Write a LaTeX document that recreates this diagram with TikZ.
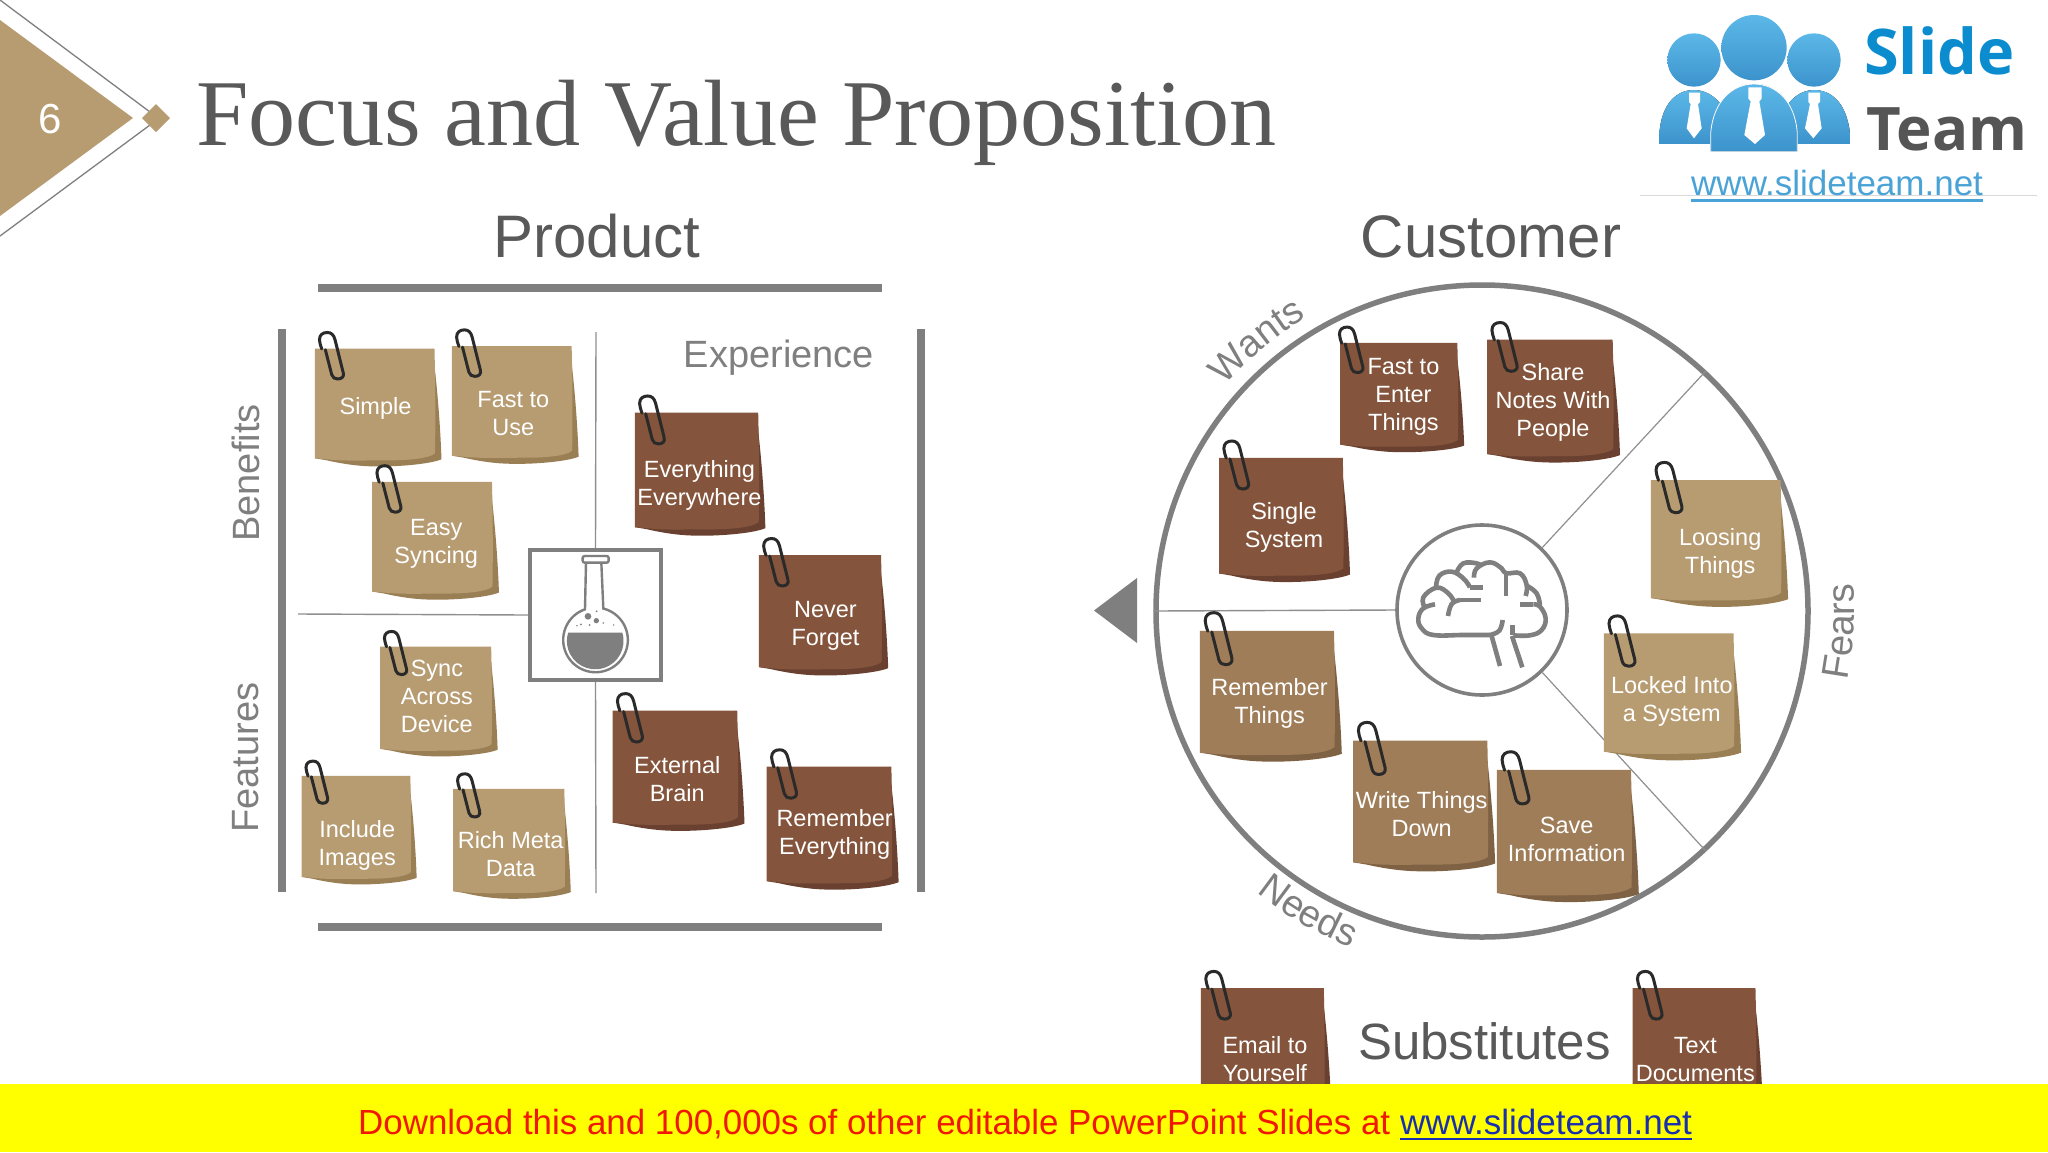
\documentclass[tikz,border=0pt]{standalone}
\usepackage{fontspec}
\usetikzlibrary{decorations.text}
\setmainfont{Liberation Sans}
\newfontfamily\ttlfont{Liberation Serif}
\newfontfamily\logofont{Open Sans}
\definecolor{lightfill}{HTML}{B79C72}
\definecolor{lightshade}{HTML}{9A7F55}
\definecolor{midfill}{HTML}{9F7D58}
\definecolor{midshade}{HTML}{7F6244}
\definecolor{darkfill}{HTML}{84553C}
\definecolor{darkshade}{HTML}{6A4130}
\definecolor{frame}{HTML}{7F7F7F}
\definecolor{thinline}{HTML}{8F8F8F}
\definecolor{inktext}{HTML}{595959}
\definecolor{clipink}{HTML}{2A2A2A}
\definecolor{bandyellow}{HTML}{FFFF00}
\definecolor{bandred}{HTML}{F01800}
\definecolor{bandblue}{HTML}{1A2FB0}
\definecolor{logoblue}{HTML}{4AA3D6}
\definecolor{logotop}{HTML}{5CB8E8}
\definecolor{logobot}{HTML}{3C93CC}
\definecolor{logoslide}{HTML}{0A8CCF}
\definecolor{logoteam}{HTML}{555555}
\tikzset{
  lbl/.style={inner sep=0pt,font=\fontsize{#1}{#1}\selectfont},
  notetext/.style={inner sep=0pt,text=white,align=center,font=\fontsize{23.5}{28}\selectfont},
  bar/.style={draw=frame,line width=8pt},
  thin rule/.style={draw=thinline,line width=1.4pt},
  brainline/.style={draw=frame,line width=4.6pt,smooth,tension=0.7},
  logoshade/.style={top color=logotop,bottom color=logobot,draw=none},
  arclabel/.style={decorate,decoration={text along path,text align=center,
    text={|\fontsize{38}{38}\selectfont\color{frame}|#1}}},
}
\def\clipdx{0}
\newcommand{\stickynote}[9]{%
  \begin{scope}[shift={(#2,#3)},xscale=#4/127,yscale=#5/118]
    \fill[#6shade] (118,0) .. controls (123,40) and (126,80) .. (127,111)
      .. controls (115,116) and (80,119) .. (55,118)
      .. controls (40,117.5) and (25,115) .. (12,112) -- (0,110) -- cycle;
    \fill[#6fill] (0,0) -- (120,0) .. controls (121,40) and (121,80) .. (120.5,105)
      .. controls (115,110) and (95,112) .. (75,112)
      .. controls (50,112) and (30,113) .. (12,111) -- (0,110) -- cycle;
  \end{scope}
  \begin{scope}[shift={(#2+\clipdx,#3)},scale=#4/127]
    \draw[clipink,line width=3pt,line cap=round]
      (7,0.3) .. controls (6,-3) and (4.7,-6) .. (4.7,-9)
      .. controls (4.7,-14) and (8,-16.3) .. (12.6,-16.3)
      .. controls (16.5,-16.3) and (19,-14) .. (20.3,-9) -- (28.6,24.3)
      .. controls (29.5,28) and (27,30.3) .. (23,30.3)
      .. controls (20,30.3) and (18,29) .. (17,26) -- (10.6,1);
  \end{scope}
  \node[notetext] (#1) at (#7,#8) {#9};
}
\begin{document}
\begin{tikzpicture}[x=1pt,y=-1pt]
\useasboundingbox (0,0) rectangle (2048,1152);
\fill[white] (0,0) rectangle (2048,1152);

% header
\fill[lightfill] (0,20) -- (133,118) -- (0,216) -- cycle;
\draw[frame,line width=1.3pt] (0,0) -- (150,112);
\draw[frame,line width=1.3pt] (150,125) -- (0,236);
\fill[lightfill] (156,104) -- (170,118) -- (156,132) -- (142,118) -- cycle;
\node[lbl=42,text=white] (pagenum) at (50,119) {6};
\node[inner sep=0pt,text=inktext,anchor=base west,font=\fontsize{94.2}{94}\selectfont\ttlfont] (title) at (196,145) {Focus and Value Proposition};

% logo
\begin{scope}[shift={(1620,0)},x=0.3333pt,y=-0.3333pt]
  \fill[logoshade] (118,432) -- (118,400) .. controls (125,310) and (170,270) .. (222,270) .. controls (265,270) and (300,300) .. (320,340) -- (320,432) -- cycle;
  \fill[logoshade] (690,432) -- (690,400) .. controls (680,310) and (635,270) .. (582,270) .. controls (540,270) and (505,300) .. (490,340) -- (490,432) -- cycle;
  \shade[top color=logotop,bottom color=logobot] (222,180) circle[radius=80];
  \shade[top color=logotop,bottom color=logobot] (582,180) circle[radius=80];
  \shade[top color=logotop,bottom color=logobot] (402,143) circle[radius=98];
  \fill[logoshade,draw=white,line width=0.8pt] (272,455) -- (272,400) .. controls (280,300) and (340,252) .. (402,252) .. controls (465,252) and (525,300) .. (532,400) -- (532,455) -- cycle;
  \fill[white] (207,278) -- (240,278) -- (240,306) -- (234,312) -- (245,385) -- (222,415) -- (200,385) -- (212,312) -- (207,306) -- cycle;
  \fill[white] (565,278) -- (600,278) -- (600,306) -- (594,312) -- (605,385) -- (580,415) -- (555,385) -- (570,312) -- (565,306) -- cycle;
  \fill[white] (385,262) -- (425,262) -- (425,296) -- (418,304) -- (435,405) -- (405,432) -- (373,405) -- (392,304) -- (385,296) -- cycle;
\end{scope}
\node[inner sep=0pt,anchor=base west,text=logoslide,font=\fontsize{63}{63}\selectfont\logofont\bfseries] (logoa) at (1864,74) {Slide};
\node[inner sep=0pt,anchor=base west,text=logoteam,font=\fontsize{60}{60}\selectfont\logofont\bfseries] (logob) at (1866,150) {Team};
\draw[draw=black!15,line width=1pt] (1640,195) -- (2037,195);
\node[lbl=35,anchor=base west,text=logoblue] (logourl) at (1691,195) {www.slideteam.net};
\draw[logoblue,line width=2.4pt] ([yshift=-5.5pt]logourl.base west) -- ([yshift=-5.5pt]logourl.base east);

% product side
\node[lbl=60,text=inktext,anchor=base] (product) at (597,257) {Product};
\coordinate (tl) at (318,288); \coordinate (tr) at (882,288);
\coordinate (bl) at (318,927); \coordinate (br) at (882,927);
\coordinate (ltop) at (281.5,329); \coordinate (lbot) at (281.5,892);
\coordinate (rtop) at (920.5,329); \coordinate (rbot) at (920.5,892);
\draw[bar] (tl) -- (tr);
\draw[bar] (bl) -- (br);
\draw[bar] (ltop) -- (lbot);
\draw[bar] (rtop) -- (rbot);
\node[draw=frame,line width=4.2pt,minimum width=131pt,minimum height=130pt,inner sep=0pt,fill=white] (flaskbox) at (595.5,615) {};
\coordinate (crosstop) at (596,332); \coordinate (crossbot) at (596,893); \coordinate (crossleft) at (298,614);
\draw[thin rule] (crosstop) -- (flaskbox.north);
\draw[thin rule] (crossbot) -- (flaskbox.south);
\draw[thin rule] (crossleft) -- (flaskbox.west);
\begin{scope}[shift={(500,520)},x=0.3333pt,y=-0.3333pt]
  \draw[frame,line width=2.4pt,rounded corners=2pt] (248,108) rectangle (326,128);
  \draw[frame,line width=2.4pt] (258,128) -- (255,268) arc[start angle=251,end angle=-76,radius=97] -- (304,128);
  \fill[frame] (205,338) -- (367,338) arc[start angle=-17,end angle=197,radius=85] -- cycle;
  \fill[frame] (264,289) circle[radius=10] (289,302) circle[radius=8] (290,274) circle[radius=3] (243,313) circle[radius=3] (231,317) circle[radius=2.5] (269,315) circle[radius=3] (310,309) circle[radius=2.5] (341,315) circle[radius=2.5];
\end{scope}
\node[lbl=38,text=frame] (experience) at (779,358) {Experience};
\node[lbl=38,text=frame,rotate=90] (benefits) at (245.5,473) {Benefits};
\node[lbl=38,text=frame,rotate=90] (features) at (245.5,757.5) {Features};

% customer side
\node[lbl=60,text=inktext,anchor=base] (customer) at (1491,257) {Customer};
\node[circle,draw=frame,line width=5.5pt,minimum size=652pt,inner sep=0pt] (outer) at (1482,611) {};
\node[circle,draw=frame,line width=3.6pt,minimum size=170pt,inner sep=0pt] (inner) at (1482,610) {};
\draw[thin rule] (outer.180) -- (inner.180);
\draw[draw=thinline,line width=1.2pt] (inner.46) -- (outer.47);
\draw[draw=thinline,line width=1.2pt] (inner.-46) -- (outer.-47);
\fill[frame] (1094,610.5) -- (1137,578) -- (1137,643) -- cycle;
\begin{scope}[shift={(1380,510)},x=0.3333pt,y=-0.3333pt]
  \draw[brainline] plot coordinates {(330,375) (250,375) (160,375) (125,355) (115,325) (130,295) (165,283)};
  \draw[brainline] plot coordinates {(135,295) (130,262) (170,233) (205,250) (222,275)};
  \draw[brainline] plot coordinates {(168,232) (178,197) (215,185) (250,205) (270,232)};
  \draw[brainline] (270,232) -- (310,232);
  \draw[brainline] plot coordinates {(230,187) (250,160) (290,160) (305,170)};
  \draw[brainline] plot coordinates {(282,203) (290,175) (330,157) (365,175) (378,190) (420,190) (440,225) (437,258)};
  \draw[brainline] plot coordinates {(442,228) (470,250) (480,285)};
  \draw[brainline] (420,283) -- (460,283);
  \draw[brainline] plot coordinates {(460,283) (480,290) (497,325) (485,360) (450,376) (400,376)};
  \draw[brainline] (398,345) -- (398,376);
  \draw[brainline] (378,190) -- (378,258);
  \draw[brainline] (302,270) -- (240,270);
  \draw[brainline] plot coordinates {(240,270) (215,282) (204,318)};
  \draw[brainline] plot coordinates {(368,330) (358,362) (330,375)};
  \draw[brainline] (335,378) -- (360,468);
  \draw[brainline] (396,378) -- (427,472);
\end{scope}
\begin{scope}[shift={(1482,611)},y=1pt]
  \path[arclabel=Wants] (145:342) arc[start angle=145,end angle=114.6,radius=342];
  \path[arclabel=Needs] (224:361) arc[start angle=224,end angle=256,radius=361];
  \path[arclabel=Fears] (-15:372) arc[start angle=-15,end angle=8.4,radius=372];
\end{scope}
\node[lbl=51,text=inktext,anchor=base west] (substitutes) at (1358,1059) {Substitutes};

% sticky notes, positions in units of the 1568-wide view
\begin{scope}[x=1.30612pt,y=-1.30612pt]
\stickynote{nsimple}{241}{267}{97}{90}{light}{287.5}{312.5}{Simple}
\stickynote{nfast}{346}{265}{97}{90}{light}{393}{316.5}{Fast to\\Use}
\stickynote{neasy}{285}{369}{97}{90}{light}{334}{416}{Easy\\Syncing}
\stickynote{neverywhere}{486}{316}{100}{94}{dark}{535.5}{372}{Everything\\Everywhere}
\stickynote{nnever}{581}{425}{99}{92}{dark}{632}{479}{Never\\Forget}
\stickynote{nsync}{291}{495}{90}{84}{light}{334.5}{533.5}{Sync\\Across\\Device}
\stickynote{ninclude}{231}{594}{88}{83}{light}{273.5}{647}{Include\\Images}
\stickynote{nrich}{347}{604}{90}{84}{light}{391}{654}{Rich Meta\\Data}
\stickynote{nexternal}{469}{544}{101}{92}{dark}{518.5}{596.5}{External\\Brain}
\stickynote{nremev}{587}{587}{101}{94}{dark}{639}{639}{Remember\\Everything}
\def\clipdx{-4}
\stickynote{nenter}{1026}{262.6}{95}{83.5}{dark}{1074.5}{304}{Fast to\\Enter\\Things}
\def\clipdx{0}
\stickynote{nshare}{1138.5}{260}{101.8}{94}{dark}{1189}{308}{Share\\Notes With\\People}
\stickynote{nsingle}{933.3}{350.5}{100.3}{95}{dark}{983}{404}{Single\\System}
\stickynote{nloosing}{1264}{367.5}{105}{97}{light}{1317}{424}{Loosing\\Things}
\stickynote{nlocked}{1228}{485}{105}{97}{light}{1280}{537}{Locked Into\\a System}
\stickynote{nremth}{918.7}{483}{108.6}{100}{mid}{972}{538.5}{Remember\\Things}
\stickynote{nwrite}{1036}{567}{108.7}{100}{mid}{1088.5}{623}{Write Things\\Down}
\stickynote{nsave}{1146}{589.5}{108.7}{101}{mid}{1199.5}{643}{Save\\Information}
\stickynote{nemail}{919.5}{756.5}{99.5}{93}{dark}{968.5}{811}{Email to\\Yourself}
\stickynote{ntext}{1250}{756.5}{99.5}{93}{dark}{1298}{811}{Text\\Documents}
\end{scope}

% band
\fill[bandyellow] (0,1084) rectangle (2048,1152);
\node[lbl=34.9,text=bandred,anchor=base west] (dltext) at (358,1134) {Download this and 100,000s of other editable PowerPoint Slides at};
\node[lbl=35,text=bandblue,anchor=base west] (dlurl) at (1400,1134) {www.slideteam.net};
\draw[bandblue,line width=2.2pt] ([yshift=-5pt]dlurl.base west) -- ([yshift=-5pt]dlurl.base east);
\end{tikzpicture}
\end{document}
